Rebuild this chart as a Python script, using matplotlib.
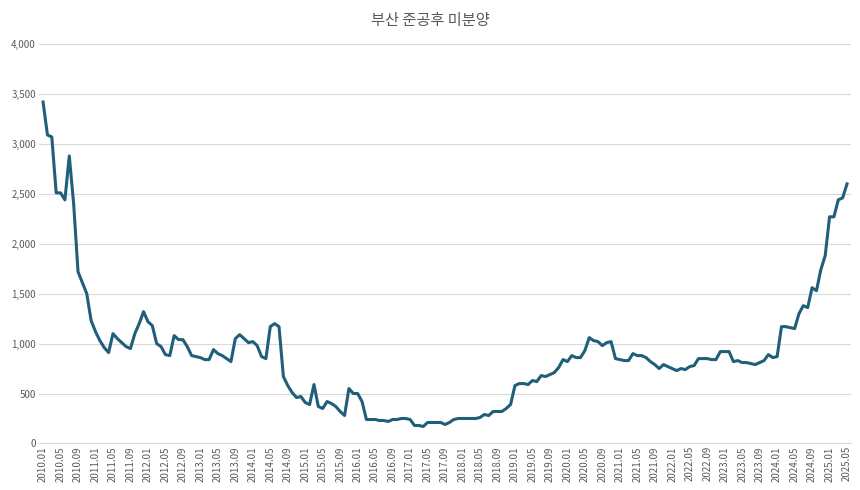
import matplotlib
matplotlib.use("Agg")
import matplotlib.pyplot as plt

title = "부산 준공후 미분양"
years = list(range(2010, 2026))
values = [
    3420, 3090, 3070, 2510, 2510, 2440, 2880, 2400, 1720, 1610, 1500, 1230,
    1120, 1030, 960, 910, 1100, 1050, 1010, 970, 950, 1100, 1200, 1320,
    1220, 1180, 1000, 970, 890, 880, 1080, 1040, 1040, 970, 880, 870,
    860, 840, 840, 940, 900, 880, 850, 820, 1050, 1090, 1050, 1010,
    1020, 980, 870, 850, 1170, 1200, 1170, 670, 580, 510, 460, 470,
    410, 390, 590, 370, 350, 420, 400, 370, 320, 280, 550, 500,
    500, 420, 240, 240, 240, 230, 230, 220, 240, 240, 250, 250,
    240, 180, 180, 170, 210, 210, 210, 210, 190, 210, 240, 250,
    250, 250, 250, 250, 260, 290, 280, 320, 320, 320, 350, 390,
    580, 600, 600, 590, 630, 620, 680, 670, 690, 710, 760, 840,
    820, 880, 860, 860, 930, 1060, 1030, 1020, 980, 1010, 1020, 850,
    840, 830, 830, 900, 880, 880, 860, 820, 790, 750, 790, 770,
    750, 730, 750, 740, 770, 780, 850, 850, 850, 840, 840, 920,
    920, 920, 820, 830, 810, 810, 800, 790, 810, 830, 890, 860,
    870, 1170, 1170, 1160, 1150, 1300, 1380, 1360, 1560, 1530, 1740, 1880,
    2270, 2270, 2440, 2460, 2600,
]
labels = [f"{y}.{m:02d}" for y in years for m in range(1, 13)][:len(values)]

plt.rcParams["font.family"] = ["Noto Sans CJK KR", "DejaVu Sans"]
fig = plt.figure(figsize=(8.6, 4.9), dpi=100)
ax = fig.add_axes([0.045, 0.095, 0.945, 0.815])
x = list(range(len(values)))
ax.plot(x, values, color="#1f5f7a", lw=2.2)
ax.set_ylim(0, 4000)
ax.set_yticks(range(0, 4001, 500))
ax.set_yticklabels([f"{v:,}" for v in range(0, 4001, 500)], fontsize=7, color="#595959")
ax.set_xticks(x[::4])
ax.set_xticklabels(labels[::4], rotation=90, fontsize=7, color="#595959")
ax.set_xlim(-1, len(values))
ax.grid(axis="y", color="#d9d9d9", lw=0.8)
ax.set_axisbelow(True)
for s in ["top", "right", "left"]:
    ax.spines[s].set_visible(False)
ax.spines["bottom"].set_color("#d9d9d9")
ax.tick_params(length=0, pad=2)
fig.suptitle(title, fontsize=11, color="#595959", y=0.975)
fig.savefig("out.png")
